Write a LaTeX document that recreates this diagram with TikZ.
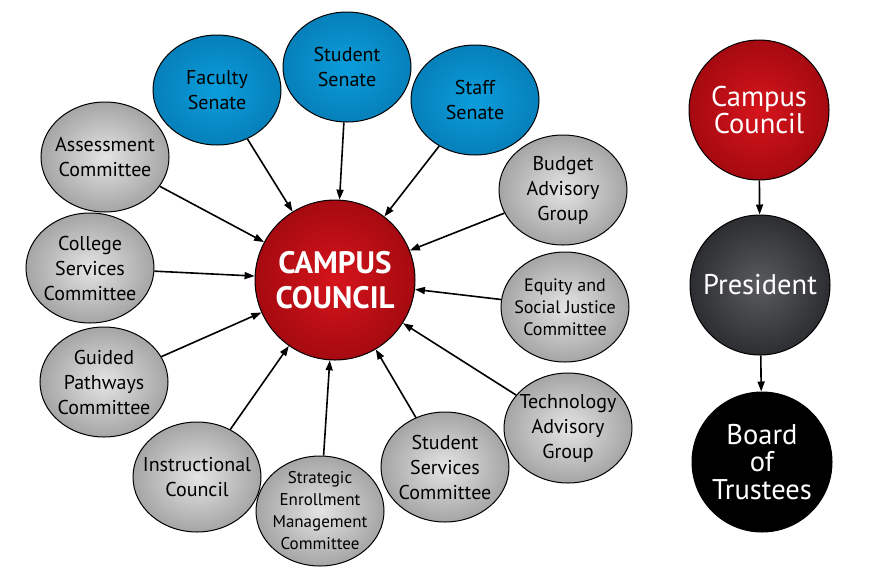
\documentclass[tikz,border=0pt]{standalone}
\usepackage{fontspec}
\setmainfont{PT Sans}
\usetikzlibrary{shapes.geometric,arrows.meta}
\definecolor{redin}{RGB}{215,20,28}
\definecolor{redout}{RGB}{165,10,16}
\definecolor{bluein}{RGB}{10,158,220}
\definecolor{blueout}{RGB}{6,128,186}
\definecolor{grayin}{RGB}{228,228,228}
\definecolor{grayout}{RGB}{165,165,165}
\definecolor{presin}{RGB}{90,91,95}
\definecolor{presout}{RGB}{45,46,50}
\tikzset{
  base/.style={draw=black, line width=1pt, inner sep=0pt, align=center},
  oval/.style={base, ellipse, inner xsep=-20pt, inner ysep=-8pt,
    minimum width=128pt, minimum height=110pt},
  blueoval/.style={oval, shading=radial, inner color=bluein, outer color=blueout,
    font=\fontsize{20}{25}\selectfont, text=black},
  grayoval/.style={oval, shading=radial, inner color=grayin, outer color=grayout,
    font=\fontsize{20}{25}\selectfont, text=black},
  smalloval/.style={grayoval, font=\fontsize{18}{22}\selectfont},
  tinyoval/.style={grayoval, font=\fontsize{17}{22}\selectfont},
  hub/.style={base, circle, minimum size=160pt, shading=radial, inner color=redin,
    outer color=redout, text=white, font=\fontsize{31}{35}\selectfont\bfseries},
  chain/.style={base, circle, minimum size=140pt, text=white,
    font=\fontsize{28.5}{27.5}\selectfont},
  arr/.style={line width=1.6pt, -{Triangle[length=10pt,width=7pt]}},
}
\begin{document}
\begin{tikzpicture}[x=1pt,y=-1pt]
\useasboundingbox (0,0) rectangle (884,579);
\fill[white] (0,0) rectangle (884,579);
% hub
\node[hub] (cc) at (335,280) {CAMPUS\\COUNCIL};
% senates
\node[blueoval] (fac) at (217,90) {Faculty\\Senate};
\node[blueoval] (stu) at (347,67) {Student\\Senate};
\node[blueoval] (sta) at (475,100) {Staff\\Senate};
% committees
\node[grayoval] (ass) at (105,157) {Assessment\\Committee};
\node[grayoval] (col) at (90,268) {College\\Services\\Committee};
\node[grayoval] (gui) at (104,382) {Guided\\Pathways\\Committee};
\node[grayoval] (ins) at (197,477) {Instructional\\Council};
\node[tinyoval] (sem) at (320,511) {Strategic\\Enrollment\\Management\\Committee};
\node[grayoval] (sss) at (445,467) {Student\\Services\\Committee};
\node[grayoval] (tec) at (568,428) {Technology\\Advisory\\Group};
\node[smalloval] (equ) at (565,307) {Equity and\\Social Justice\\Committee};
\node[grayoval] (bud) at (563,190) {Budget\\Advisory\\Group};
% arrows to hub
\foreach \n in {fac,stu,sta,ass,col,gui,ins,sem,sss,tec,equ,bud}
  \draw[arr] (\n) -- (cc);
% right chain
\node[chain, shading=radial, inner color=redin, outer color=redout] (rcc) at (759,110) {Campus\\Council};
\node[chain, shading=radial, inner color=presin, outer color=presout] (pre) at (760,285) {President};
\node[chain, fill=black] (bot) at (762,462) {Board\\of\\Trustees};
\draw[arr] (rcc) -- (pre);
\draw[arr] (pre) -- (bot);
\end{tikzpicture}
\end{document}
